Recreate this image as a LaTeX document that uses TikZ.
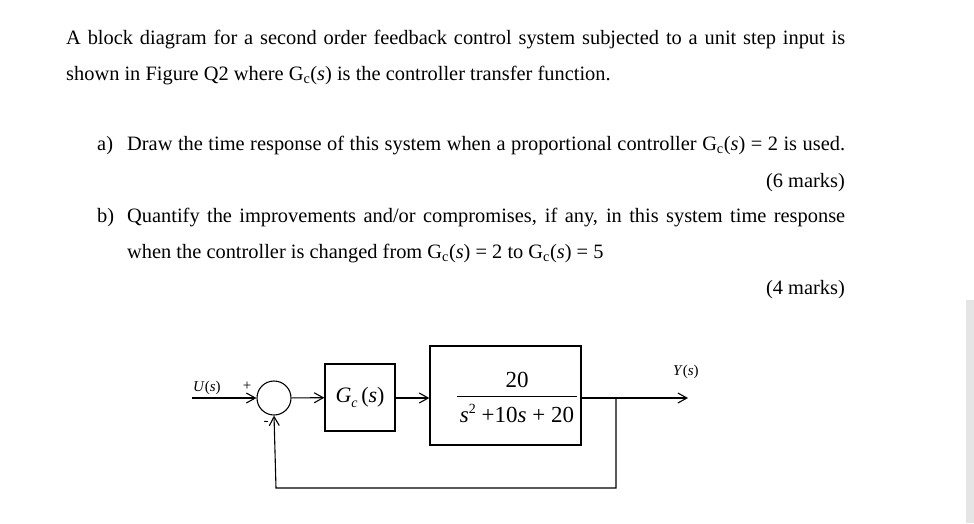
\documentclass[tikz,border=0pt]{standalone}
\usepackage{fontspec}
\setmainfont{Liberation Serif}
\usetikzlibrary{arrows.meta}
\begin{document}
\begin{tikzpicture}[x=1pt,y=-1pt,
  txt/.style={font=\fontsize{20.4}{22}\selectfont,inner sep=0pt},
  dtxt/.style={font=\fontsize{15}{17}\selectfont,inner sep=0pt},
  blk/.style={draw,line width=1.3pt},
  ln/.style={line width=1.1pt},
  arr/.style={ln,-{Straight Barb[length=9pt,width=10pt]}}]
\useasboundingbox (0,0) rectangle (974,523);
\fill[gray!20] (966,300) rectangle (974,523);
\node[txt,anchor=base west] (l1) at (66,44) {\makebox[779pt][s]{A block diagram for a second order feedback control system subjected to a unit step input is}};
\node[txt,anchor=base west] (l2) at (66,80) {shown in Figure Q2 where G\textsubscript{c}(\textit{s}) is the controller transfer function.};
\node[txt,anchor=base west] (a) at (97,150) {a)};
\node[txt,anchor=base west] (la) at (127,150) {\makebox[718pt][s]{Draw the time response of this system when a proportional controller G\textsubscript{c}(\textit{s}) = 2 is used.}};
\node[txt,anchor=base east] (m6) at (845,187) {(6 marks)};
\node[txt,anchor=base west] (b) at (97,222) {b)};
\node[txt,anchor=base west] (lb) at (127,222) {\makebox[718pt][s]{Quantify the improvements and/or compromises, if any, in this system time response}};
\node[txt,anchor=base west] (lb2) at (127,258) {when the controller is changed from G\textsubscript{c}(\textit{s}) = 2 to G\textsubscript{c}(\textit{s}) = 5};
\node[txt,anchor=base east] (m4) at (845,294) {(4 marks)};
% diagram
\coordinate (in) at (192,398);
\node[draw,ln,circle,minimum size=34pt,inner sep=0pt] (sum) at (274,398) {};
\node[blk,minimum width=70pt,minimum height=67pt,inner sep=0pt] (gc) at (360,397.5) {};
\node[font=\fontsize{22}{24}\selectfont] at (gc) {\textit{G}\raisebox{-5pt}{\fontsize{14}{14}\selectfont\textit{c}}\,(\textit{s})};
\node[blk,minimum width=151pt,minimum height=99pt,inner sep=0pt] (pl) at (505.5,395.5) {};
\node[font=\fontsize{23}{25}\selectfont] at (517,380) {20};
\draw[line width=0.6pt] (457,396) -- (577,396);
\node[font=\fontsize{23}{25}\selectfont] at (517,413) {\textit{s}\raisebox{9pt}{\fontsize{14}{14}\selectfont 2} +10\textit{s} + 20};
\coordinate (out) at (688,398);
\coordinate (br) at (616,398);
\coordinate (fb) at (616,488);
\coordinate (fb2) at (276,488);
\draw[arr] (in) -- (sum);
\draw[arr] (sum) -- (gc);
\draw[arr] (gc.east |- 0,398) -- (pl.west |- 0,398);
\draw[arr] (pl.east |- 0,398) -- (out);
\draw[arr] (br) -- (fb) -- (fb2) -- (sum.south);
\node[dtxt,anchor=base west] (u) at (193,391) {\textit{U}(\textit{s})};
\node[dtxt,anchor=base west] (y) at (673,375) {\textit{Y}(\textit{s})};
\node[dtxt] (plus) at (247,386) {+};
\node[dtxt] (minus) at (266,423) {-};
\end{tikzpicture}
\end{document}
